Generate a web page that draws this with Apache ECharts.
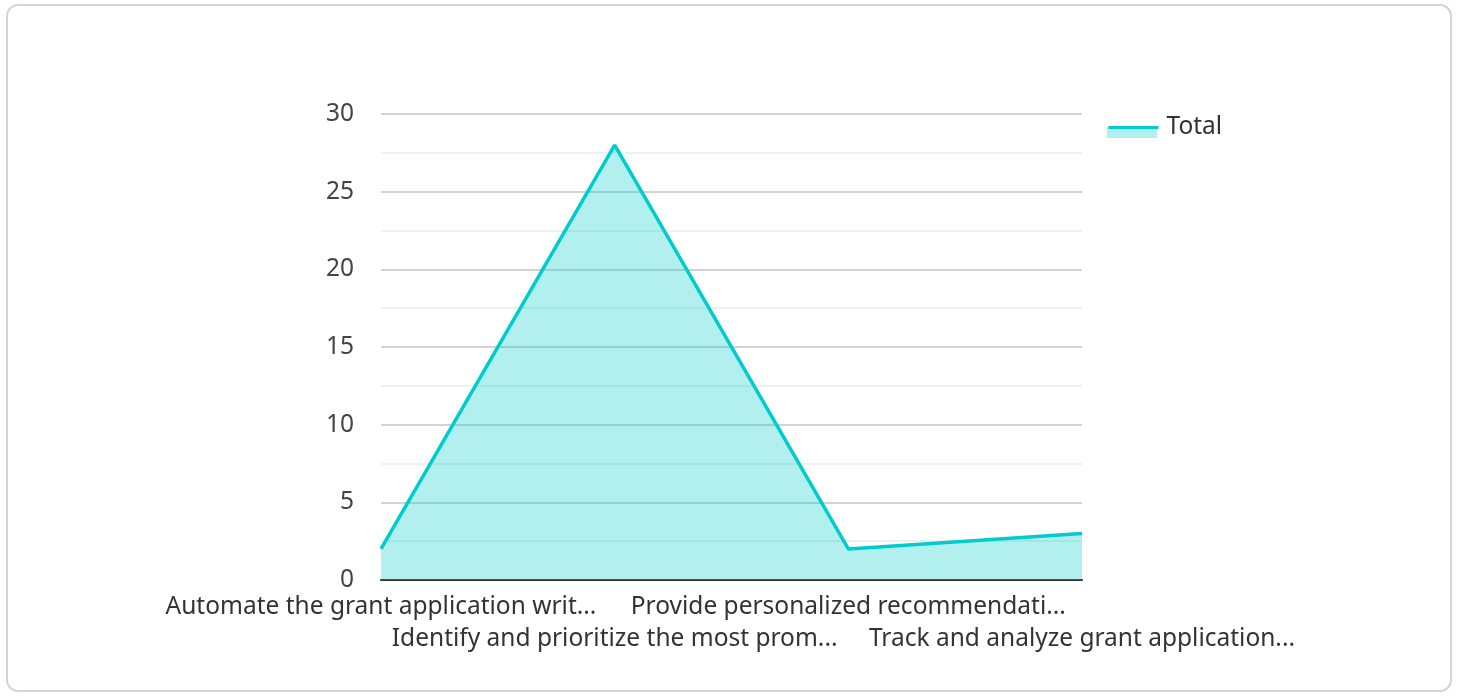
<!DOCTYPE html>
<html lang="en">
<head>
<meta charset="UTF-8">
<title>Total</title>
<script src="https://cdn.jsdelivr.net/npm/echarts@6/dist/echarts.min.js"></script>
<style>
  html, body { margin: 0; padding: 0; background: #fff; }
  #frame {
    position: absolute; left: 6px; top: 4px; width: 1442px; height: 684px;
    border: 2px solid #d4d4d4; border-radius: 12px; pointer-events: none;
  }
  #main { position: absolute; left: 0; top: 0; width: 1458px; height: 696px; }
</style>
</head>
<body>
<div id="main"></div>
<div id="frame"></div>
<script>
  var categories = [
    'Automate the grant application writ...',
    'Identify and prioritize the most prom...',
    'Provide personalized recommendati...',
    'Track and analyze grant application...'
  ];
  var totals = [2, 28, 2, 3];
  var seriesName = 'Total';

  var myChart = echarts.init(document.getElementById('main'));
  var font = '"Noto Sans", sans-serif';
  var fs = 24.5;

  var option = {
    animation: false,
    textStyle: { fontFamily: font },
    grid: { left: 381, right: 376, top: 114, bottom: 116 },
    legend: [{
      // area swatch under the line
      data: [seriesName],
      left: 1107, top: 127,
      padding: 0,
      icon: 'rect',
      itemWidth: 50, itemHeight: 11,
      itemStyle: { color: '#b2f0f0', opacity: 1 },
      textStyle: { color: 'transparent', fontSize: 1, fontFamily: font },
      selectedMode: false
    }, {
      data: [seriesName],
      left: 1107, top: 115,
      padding: 0,
      itemWidth: 50, itemHeight: 20,
      itemStyle: { opacity: 0 },
      lineStyle: { color: '#00cccc', width: 3 },
      textStyle: { color: '#333', fontSize: fs, fontFamily: font, padding: [0, 0, 0, 3] }
    }],
    xAxis: {
      type: 'category',
      data: categories,
      boundaryGap: false,
      axisLine: { lineStyle: { color: '#333', width: 2 } },
      axisTick: { show: false },
      axisLabel: {
        interval: 0,
        color: '#333',
        fontSize: fs,
        fontFamily: font,
        margin: 11,
        lineHeight: 32,
        formatter: function (v, i) { return i % 2 ? '\n' + v : v; }
      }
    },
    yAxis: {
      type: 'value',
      min: 0, max: 30, interval: 5,
      axisLine: { show: false },
      axisTick: { show: false },
      axisLabel: { color: '#444', fontSize: fs, fontFamily: font, margin: 27 },
      splitLine: { lineStyle: { color: '#c4c4c4', width: 1.5 } },
      minorTick: { show: false, splitNumber: 2 },
      minorSplitLine: { show: true, lineStyle: { color: '#ebebeb', width: 1.5 } }
    },
    series: [{
      name: seriesName,
      type: 'line',
      data: totals,
      symbol: 'none',
      lineStyle: { color: '#00cccc', width: 3.5 },
      itemStyle: { color: '#00cccc' },
      areaStyle: { color: '#00cccc', opacity: 0.3 }
    }]
  };
  myChart.setOption(option);
</script>
</body>
</html>
